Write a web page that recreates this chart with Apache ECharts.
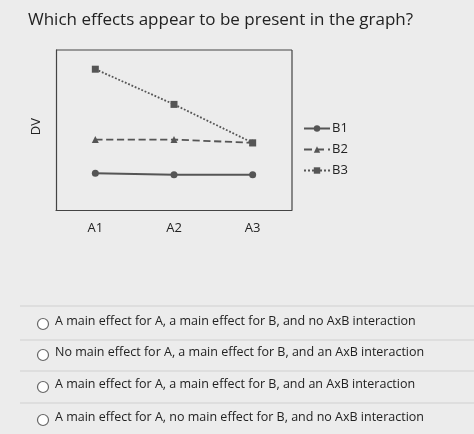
<!DOCTYPE html><html><head><meta charset="utf-8"><script src="https://cdn.jsdelivr.net/npm/echarts@6/dist/echarts.min.js"></script>
<style>html,body{margin:0;background:#e9e9e9}#c{width:474px;height:434px}</style></head><body><div id="c"></div><script>
const categories=['A1','A2','A3'];
const seriesNames=['B1','B2','B3'];
const b1=[2.3,2.2,2.2];
const b2=[4.4,4.4,4.2];
const b3=[8.8,6.6,4.2];
const options=['A main effect for A, a main effect for B, and no AxB interaction','No main effect for A, a main effect for B, and an AxB interaction','A main effect for A, a main effect for B, and an AxB interaction','A main effect for A, no main effect for B, and no AxB interaction'];
const optY=[324,355,387,420];
const c=echarts.init(document.getElementById('c'));
const g=[{type:'rect',shape:{x:0,y:0,width:474,height:434},style:{fill:'#ececec'},z:-10},
{type:'text',left:28,top:12,style:{text:'Which effects appear to be present in the graph?',font:'17px "Open Sans"',fill:'#222'}},
{type:'text',left:30,top:118,rotation:Math.PI/2,style:{text:'DV',font:'13px "Open Sans"',fill:'#222'}}];
options.forEach((t,i)=>{g.push({type:'circle',shape:{cx:43,cy:optY[i],r:5.5},style:{fill:'#fff',stroke:'#666',lineWidth:1.2}});
g.push({type:'text',left:55,top:optY[i]-9,style:{text:t,font:'12.5px "Open Sans"',fill:'#222'}});
g.push({type:'line',shape:{x1:20,y1:optY[i]+16,x2:474,y2:optY[i]+16},style:{stroke:'#d0d0d0'}});});
g.push({type:'line',shape:{x1:20,y1:306,x2:474,y2:306},style:{stroke:'#d0d0d0'}});
const mk=(n,d,sym,type)=>({name:n,type:'line',data:d,symbol:sym,symbolSize:7,color:'#555',lineStyle:{color:'#555',width:type==='solid'?2:1.8,type:type},itemStyle:{color:'#555'}});
c.setOption({animation:false,graphic:g,
grid:{left:56,right:182,top:50,bottom:224},
xAxis:{type:'category',data:categories,boundaryGap:true,axisTick:{show:false},axisLine:{lineStyle:{color:'#444',width:1.2}},axisLabel:{margin:12,color:'#222',fontSize:13,fontFamily:'Open Sans'}},
yAxis:{type:'value',min:0,max:10,axisLabel:{show:false},axisTick:{show:false},splitLine:{show:false},axisLine:{show:true,lineStyle:{color:'#444',width:1.2}}},
legend:{orient:'vertical',left:298,top:117,itemGap:8,itemWidth:26,itemHeight:8,textStyle:{fontSize:13,color:'#222',fontFamily:'Open Sans',padding:[0,0,0,-3]},data:seriesNames},
series:[mk('B1',b1,'circle','solid'),mk('B2',b2,'triangle','dashed'),mk('B3',b3,'rect','dotted')]});
c.getZr().add(new echarts.graphic.Line({shape:{x1:292,y1:50,x2:292,y2:210},style:{stroke:'#444',lineWidth:1.2}}));
c.getZr().add(new echarts.graphic.Line({shape:{x1:56,y1:50,x2:292,y2:50},style:{stroke:'#444',lineWidth:1.2}}));
</script></body></html>
